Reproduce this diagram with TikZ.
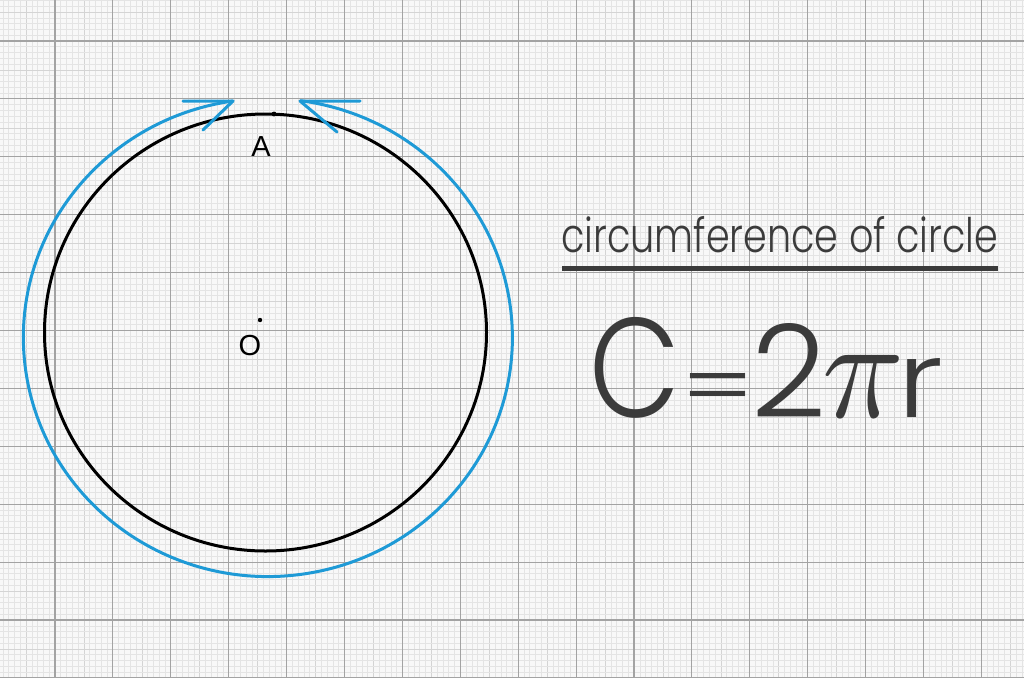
\documentclass[tikz,border=0pt]{standalone}
\usepackage{fontspec}
\usepackage{graphicx}
\setmainfont{Liberation Sans}
\IfFontExistsTF{Poppins Light}{\newfontfamily\pl{Poppins Light}}{\newfontfamily\pl{Poppins}}
\definecolor{paper}{HTML}{F8F8F8}
\definecolor{minorc}{HTML}{E4E4E4}
\definecolor{midc}{HTML}{D4D4D4}
\definecolor{majorc}{HTML}{A3A3A3}
\definecolor{bluec}{HTML}{1E9AD6}
\definecolor{ink}{HTML}{3B3B3B}
\tikzset{
  minorline/.style={draw=minorc, line width=0.6pt},
  midline/.style={draw=midc, line width=0.7pt},
  majorline/.style={draw=majorc, line width=1.1pt},
  circline/.style={draw=black, line width=3pt},
  blueline/.style={draw=bluec, line width=3pt, line cap=round, line join=round},
  lbl/.style={inner sep=0pt, font=\fontsize{29}{29}\selectfont, text=black},
  glyph/.style={inner sep=0pt, anchor=base west, text=ink},
  dotmark/.style={fill=black}
}
\begin{document}
\begin{tikzpicture}[x=1pt,y=-1pt]
\useasboundingbox (0,0) rectangle (1024,678);
\fill[paper] (0,0) rectangle (1024,678);
% grid
\foreach \i in {0,...,178}{
  \pgfmathsetmacro{\xx}{-2.9+5.79*\i}
  \pgfmathtruncatemacro{\m}{mod(\i,10)}
  \ifnum\m=5 \draw[midline] (\xx,0) -- (\xx,678);
  \else\ifnum\m=0 \else \draw[minorline] (\xx,0) -- (\xx,678);\fi\fi
}
\foreach \i in {0,...,120}{
  \pgfmathsetmacro{\yy}{-16.9+5.79*\i}
  \pgfmathtruncatemacro{\m}{mod(\i,10)}
  \ifnum\m=5 \draw[midline] (0,\yy) -- (1024,\yy);
  \else\ifnum\m=0 \else \draw[minorline] (0,\yy) -- (1024,\yy);\fi\fi
}
\foreach \k in {-1,...,17}{
  \draw[majorline] ({55+57.9*\k},0) -- ({55+57.9*\k},678);
}
\foreach \k in {-1,...,11}{
  \draw[majorline] (0,{41+57.9*\k}) -- (1024,{41+57.9*\k});
}
% black circle
\coordinate (O) at (265.5,332.5);
\draw[circline] (O) ellipse[x radius=221, y radius=218.5];
\fill[dotmark] (274,114) circle[radius=2.4];
\fill[dotmark] (260,320) circle[radius=2.2];
\node[lbl] (A) at (261,147) {A};
\node[lbl] (Olbl) at (250,346) {O};
% blue arc with arrowheads
\coordinate (B) at (267.5,336);
\coordinate (tipL) at (233,101);
\coordinate (tipR) at (300,101);
\coordinate (barbL1) at (183,101);
\coordinate (barbL2) at (203,130);
\coordinate (barbR1) at (360,101);
\coordinate (barbR2) at (337,132);
\draw[blueline] (tipL) arc[start angle=-98.2, end angle=-442.3, x radius=244.5, y radius=239];
\draw[blueline] (barbL1) -- (tipL) -- (barbL2);
\draw[blueline] (barbR1) -- (tipR) -- (barbR2);
% title
\node[glyph] (title) at (561,252) {\resizebox{437pt}{36pt}{\pl circumference of circle}};
\fill[ink] (562,265.5) rectangle (998,270.5);
% formula
\node[glyph] (C) at (589,417) {\resizebox{91pt}{100pt}{\pl C}};
\node[glyph] (eq) at (681,417) {\resizebox{73pt}{44pt}{\pl =}};
\node[glyph] (two) at (751,417) {\resizebox{75pt}{94pt}{\pl 2}};
\node[glyph] (pi) at (822,417) {\resizebox{82pt}{62pt}{$\pi$}};
\node[glyph] (r) at (897,417) {\resizebox{46pt}{59pt}{\pl r}};
\end{tikzpicture}
\end{document}
